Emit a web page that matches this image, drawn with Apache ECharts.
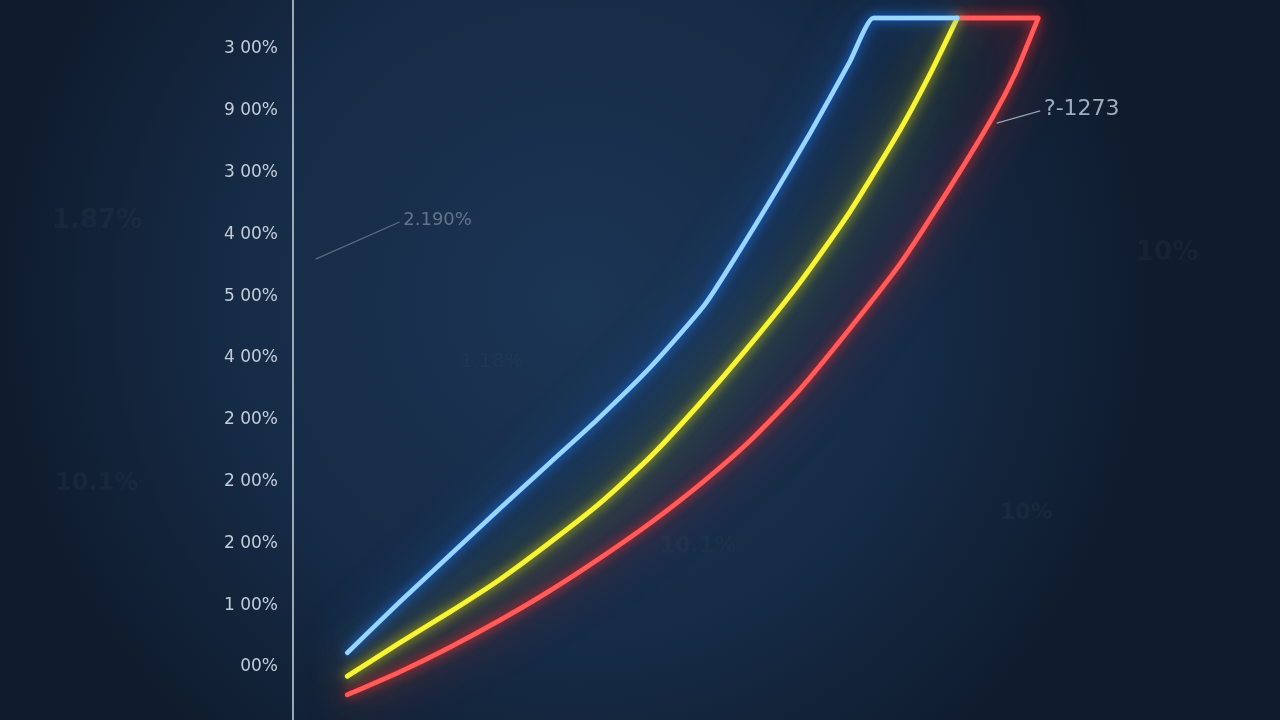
<!DOCTYPE html>
<html><head><meta charset="utf-8">
<script src="https://cdn.jsdelivr.net/npm/echarts@6/dist/echarts.min.js"></script>
<style>html,body{margin:0;padding:0;background:#12223a;}#c{width:1280px;height:720px;}</style>
</head><body><div id="c"></div>
<script>
// tick labels, bottom (value 0) to top (value 10)
const yLabels = ["00%","1 00%","2 00%","2 00%","2 00%","4 00%","5 00%","4 00%","3 00%","9 00%","3 00%"];
const yTicks = [0,1,2,3,4,5,6,7,8,9,10];
// series values [x, y] in axis units
const blueLine = [[0.55,0.23],[1.08,1.05],[1.59,1.81],[2.10,2.57],[2.60,3.30],[3.08,4.00],[3.62,4.85],[4.17,5.86],[4.53,6.75],[4.86,7.61],[5.24,8.64],[5.64,9.79],[5.88,10.50],[6.00,10.50],[6.73,10.50]];
const yellowLine = [[0.55,-0.15],[1.08,0.39],[1.59,0.89],[2.10,1.42],[2.60,2.01],[3.11,2.65],[3.62,3.40],[4.12,4.26],[4.63,5.21],[5.14,6.23],[5.64,7.36],[6.15,8.69],[6.45,9.58],[6.73,10.50]];
const redLine = [[0.55,-0.45],[1.08,-0.08],[1.59,0.32],[2.10,0.76],[2.60,1.23],[3.11,1.76],[3.62,2.33],[4.12,2.95],[4.63,3.66],[5.14,4.50],[5.64,5.47],[6.15,6.52],[6.66,7.77],[7.09,8.90],[7.32,9.61],[7.55,10.50],[7.45,10.50],[6.73,10.50]];
// annotations: leader start, leader end, text
const noteLeft = [[0.23,6.60],[1.08,7.20],"2.190%"];
const noteRight = [[7.13,8.80],[7.57,9.00],"?-1273"];

const chart = echarts.init(document.getElementById('c'));
function halo(data, glow, z){
  return {type:'line', data, z, symbol:'none', smooth:0.2, animation:false, silent:true,
    lineStyle:{color:glow, width:5, opacity:0.9, cap:'round', join:'round', shadowBlur:45, shadowColor:glow}};
}
function core(name, data, color, glow, z){
  return {name, type:'line', data, z, symbol:'none', smooth:0.2, animation:false,
    lineStyle:{color, width:4.5, cap:'round', join:'round', shadowBlur:12, shadowColor:glow}};
}
function note(n, op, fs, ff){
  return {
    type:'line', data:[], symbol:'none',
    markLine:{silent:true, symbol:'none', animation:false,
      lineStyle:{color:'rgba(170,185,205,'+op+')', width:1.2, type:'solid'},
      label:{show:true, position:'end', distance:4, formatter:n[2], color:'rgba(185,198,215,'+op+')', fontSize:fs, fontFamily:ff},
      data:[[{coord:n[0]},{coord:n[1]}]]}
  };
}
chart.setOption({
  backgroundColor:{type:'radial', x:0.45, y:0.42, r:0.8, colorStops:[
    {offset:0,color:'#1b3554'},{offset:0.6,color:'#162b46'},{offset:1,color:'#0f1c2e'}]},
  grid:{left:293, right:0, top:0, bottom:0, containLabel:false},
  xAxis:{type:'value', min:0, max:10, show:false},
  yAxis:{type:'value', min:-0.858, max:10.793,
    axisLine:{show:true, lineStyle:{color:'#c9d3de', width:1.5}},
    axisTick:{show:false}, splitLine:{show:false},
    axisLabel:{margin:15, fontSize:17, color:'#c3cdda', fontFamily:'DejaVu Sans',
      customValues:yTicks, formatter:v => yLabels[Math.round(v)]}},
  graphic:[
    {type:'text', left:52, top:208, style:{text:'1.87%', fontSize:26, fill:'rgba(255,255,255,0.03)', fontFamily:'DejaVu Sans', fontWeight:'bold'}},
    {type:'text', left:55, top:472, style:{text:'10.1%', fontSize:24, fill:'rgba(255,255,255,0.03)', fontFamily:'DejaVu Sans', fontWeight:'bold'}},
    {type:'text', left:1136, top:240, style:{text:'10%', fontSize:26, fill:'rgba(255,255,255,0.03)', fontFamily:'DejaVu Sans', fontWeight:'bold'}},
    {type:'text', left:1000, top:502, style:{text:'10%', fontSize:22, fill:'rgba(255,255,255,0.03)', fontFamily:'DejaVu Sans', fontWeight:'bold'}},
    {type:'text', left:660, top:535, style:{text:'10.1%', fontSize:22, fill:'rgba(255,255,255,0.025)', fontFamily:'DejaVu Sans', fontWeight:'bold'}},
    {type:'text', left:460, top:352, style:{text:'1.18%', fontSize:20, fill:'rgba(255,255,255,0.025)', fontFamily:'DejaVu Sans'}}
  ],
  series:[
    note(noteLeft, 0.45, 18, 'DejaVu Sans'),
    note(noteRight, 0.85, 22, 'DejaVu Sans'),
    halo(redLine, '#ff2a2a', 2),
    halo(yellowLine, '#e8e000', 2),
    halo(blueLine, '#1f7dff', 2),
    core('red', redLine, '#ff5c5c', '#ff2a2a', 3),
    core('yellow', yellowLine, '#f6f53a', '#e8e000', 4),
    core('blue', blueLine, '#9ad6ff', '#1f7dff', 5)
  ]
});
</script></body></html>
